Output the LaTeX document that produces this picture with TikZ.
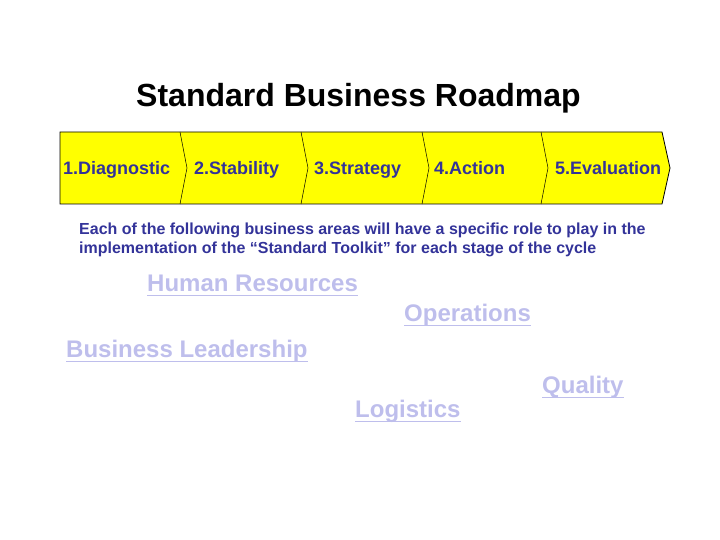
\documentclass[tikz,border=0pt]{standalone}
\usepackage{fontspec}
\setmainfont{Liberation Sans}
\usepackage{tikz}
\definecolor{chevfill}{HTML}{FFFF00}
\definecolor{navytext}{HTML}{333399}
\definecolor{linkblue}{HTML}{BEBEEC}

\begin{document}
\begin{tikzpicture}[
        x=1pt, y=-1pt,
        heading/.style={
            font=\bfseries\fontsize{32}{38}\selectfont,
            inner sep=0pt,
            anchor=base
        },
        stage/.style={
            text=navytext,
            font=\bfseries\fontsize{18}{21}\selectfont,
            inner sep=0pt,
            anchor=base west
        },
        note/.style={
            text=navytext,
            font=\bfseries\fontsize{16}{19}\selectfont,
            inner sep=0pt,
            anchor=base west
        },
        area/.style={
            text=linkblue,
            font=\bfseries\fontsize{24}{28}\selectfont,
            inner sep=0pt,
            anchor=base west
        },
        underl/.style={
            draw=linkblue,
            line width=1.5pt
        },
        divider/.style={
            draw=black,
            line width=0.5pt
        }
    ]
        \useasboundingbox (0,0) rectangle (720,540);

        % Title
        \node[heading] (title) at (358.5,107) {Standard Business Roadmap};

        % Chevron band
        \filldraw[fill=chevfill, draw=black, line width=0.8pt]
            (60,132) -- (662,132) -- (670,168) -- (662,204) -- (60,204) -- cycle;
        \foreach \x in {180,301,422,541} {
            \draw[divider] (\x,132) -- (\x+7,168) -- (\x,204);
        }

        % Stages
        \node[stage] (diag) at (63,175) {1.Diagnostic};
        \node[stage] (stab) at (194,175) {2.Stability};
        \node[stage] (strat) at (314,175) {3.Strategy};
        \node[stage] (act) at (434,175) {4.Action};
        \node[stage] (eval) at (555,175) {5.Evaluation};

        % Explanation
        \node[note] (note1) at (79,235) {Each of the following business areas will have a specific role to play in the};
        \node[note] (note2) at (79,254) {implementation of the “Standard Toolkit” for each stage of the cycle};

        % Business areas
        \node[area] (hr) at (147,291) {Human Resources};
        \node[area] (ops) at (404,321) {Operations};
        \node[area] (lead) at (66,357) {Business Leadership};
        \node[area] (qual) at (542,393) {Quality};
        \node[area] (logi) at (355,417) {Logistics};
        \foreach \n in {hr,ops,lead,qual,logi} {
            \draw[underl] ([yshift=-4.5pt]\n.base west) -- ([yshift=-4.5pt]\n.base east);
        }
    \end{tikzpicture}
\end{document}
